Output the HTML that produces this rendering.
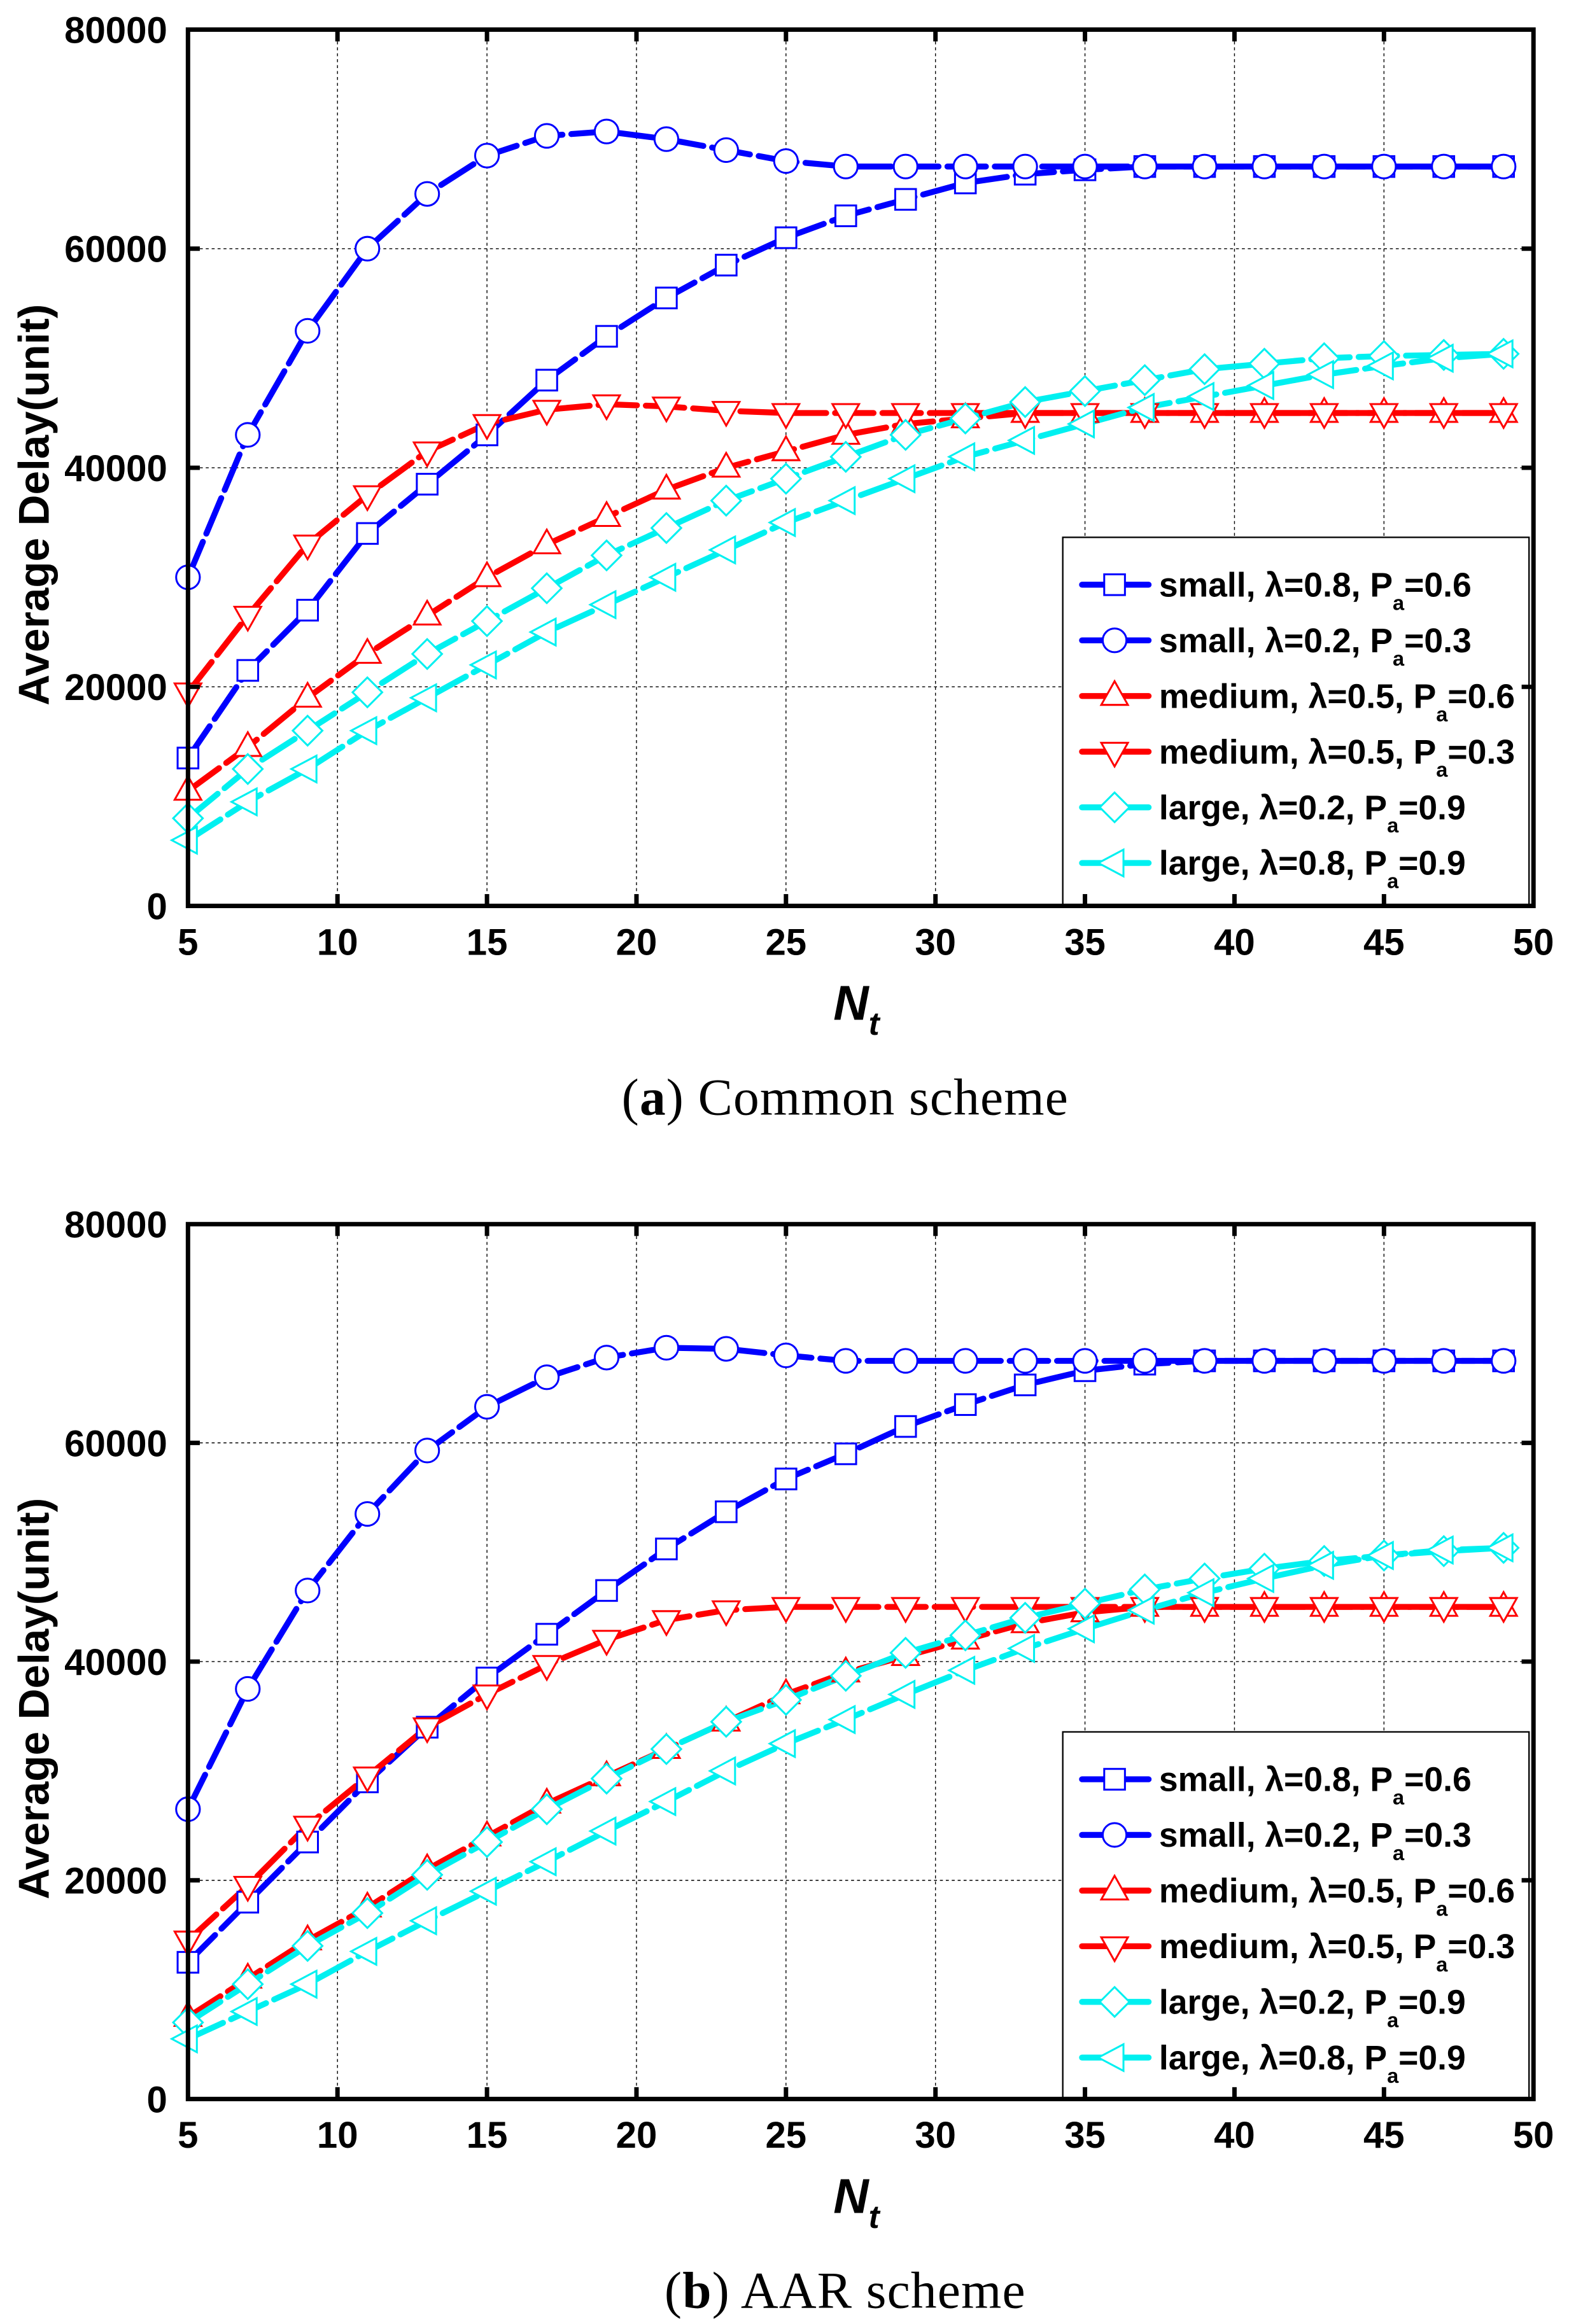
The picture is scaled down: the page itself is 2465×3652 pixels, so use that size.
<!DOCTYPE html>
<html><head><meta charset="utf-8"><style>
html,body{margin:0;padding:0;background:#fff}
svg{display:block}
text{font-family:"Liberation Sans",Arial,sans-serif}
</style></head><body>
<svg id="s" width="2465" height="3652" viewBox="0 0 1060 1570" preserveAspectRatio="none" xmlns="http://www.w3.org/2000/svg"></svg>
<script>
const S=document.getElementById('s');let h='';
const X0=127,X1=1036;
function px(x){return X0+(x-5)*(X1-X0)/45;}
const xs=[];for(let x=5;x<=49;x+=2)xs.push(x);
const A={
sq:[13.5,21.5,27,34,38.5,43,48,52,55.5,58.5,61,63,64.5,66,66.8,67.2,67.5,67.5,67.5,67.5,67.5,67.5,67.5],
ci:[30,43,52.5,60,65,68.5,70.3,70.7,70,69,68,67.5,67.5,67.5,67.5,67.5,67.5,67.5,67.5,67.5,67.5,67.5,67.5],
ut:[10.5,14.5,19,23,26.5,30,33,35.5,38,40,41.5,43,44,44.5,45,45,45,45,45,45,45,45,45],
dt:[19.5,26.5,33,37.5,41.5,44,45.3,45.8,45.6,45.2,45,45,45,45,45,45,45,45,45,45,45,45,45],
di:[8,12.5,16,19.5,23,26,29,32,34.5,37,39,41,43,44.5,46,47,48,49,49.5,50,50.2,50.3,50.4],
lt:[6,9.5,12.5,16,19,22,25,27.5,30,32.5,35,37,39,41,42.5,44,45.5,46.5,47.5,48.5,49.3,50,50.4]};
const B={
sq:[12.5,18,23.5,29,34,38.5,42.5,46.5,50.3,53.7,56.7,59,61.5,63.5,65.3,66.6,67.2,67.5,67.5,67.5,67.5,67.5,67.5],
ci:[26.5,37.5,46.5,53.5,59.3,63.3,66,67.8,68.7,68.6,68,67.5,67.5,67.5,67.5,67.5,67.5,67.5,67.5,67.5,67.5,67.5,67.5],
ut:[7.5,11,14.5,17.5,21,24,27,29.5,32,34.5,37,39,40.5,42,43.5,44.5,45,45,45,45,45,45,45],
dt:[14.5,19.5,25,29.5,34,37,39.7,42,43.8,44.7,45,45,45,45,45,45,45,45,45,45,45,45,45],
di:[7,10.5,14,17,20.5,23.5,26.5,29.3,32,34.5,36.5,38.7,40.8,42.4,44,45.3,46.6,47.6,48.5,49.2,49.7,50.1,50.4],
lt:[5.5,8,10.5,13.5,16.3,19,21.7,24.5,27.2,30,32.5,34.7,37,39.2,41.2,43,44.7,46.3,47.6,48.8,49.7,50.2,50.4]};
const col={sq:'#0000ff',ci:'#0000ff',ut:'#ff0000',dt:'#ff0000',di:'#00f0f0',lt:'#00f0f0'};
function mk(t,x,y){const c=col[t];const st=`fill="#fff" stroke="${c}" stroke-width="1.3"`;
if(t=='sq')return `<rect x="${x-7}" y="${y-7}" width="14" height="14" ${st}/>`;
if(t=='ci')return `<circle cx="${x}" cy="${y}" r="8" ${st}/>`;
if(t=='ut')return `<polygon points="${x},${y-10} ${x-9},${y+6} ${x+9},${y+6}" ${st}/>`;
if(t=='dt')return `<polygon points="${x},${y+10} ${x-9},${y-6} ${x+9},${y-6}" ${st}/>`;
if(t=='di')return `<polygon points="${x},${y-10} ${x+10},${y} ${x},${y+10} ${x-10},${y}" ${st}/>`;
if(t=='lt')return `<polygon points="${x-11},${y} ${x+6},${y-9} ${x+6},${y+9}" ${st}/>`;}
function plot(D,T,Bt,caption){
 const py=v=>Bt-(v/80)*(Bt-T);
 for(let x=10;x<=45;x+=5)h+=`<line x1="${px(x)}" y1="${T}" x2="${px(x)}" y2="${Bt}" stroke="#000" stroke-width="0.6" stroke-dasharray="2,2"/>`;
 for(let v=20;v<=60;v+=20)h+=`<line x1="${X0}" y1="${py(v)}" x2="${X1}" y2="${py(v)}" stroke="#000" stroke-width="0.6" stroke-dasharray="2,2"/>`;
 for(const t of ['sq','ci','ut','dt','di','lt']){
  const pts=xs.map((x,i)=>px(x)+','+py(D[t][i])).join(' ');
  h+=`<polyline points="${pts}" fill="none" stroke="${col[t]}" stroke-width="4" stroke-linecap="round" stroke-dasharray="26,6"/>`;
 }
 for(const t of ['sq','ci','ut','dt','di','lt'])xs.forEach((x,i)=>h+=mk(t,px(x),py(D[t][i])));
 const L=718,R=1033,LT=T+343;
 h+=`<rect x="${L}" y="${LT}" width="${R-L}" height="${Bt-LT-1}" fill="#fff" stroke="#000" stroke-width="1"/>`;
 const labs=[['sq','small, λ=0.8, P','=0.6'],['ci','small, λ=0.2, P','=0.3'],['ut','medium, λ=0.5, P','=0.6'],['dt','medium, λ=0.5, P','=0.3'],['di','large, λ=0.2, P','=0.9'],['lt','large, λ=0.8, P','=0.9']];
 labs.forEach((l,i)=>{const y=LT+32+i*37.6;
  h+=`<line x1="731" y1="${y}" x2="776" y2="${y}" stroke="${col[l[0]]}" stroke-width="4" stroke-linecap="round"/>`+mk(l[0],753,y);
  h+=`<text x="783" y="${y+8}" font-size="23" font-weight="bold">${l[1]}<tspan font-size="14" dy="9">a</tspan><tspan dy="-9">${l[2]}</tspan></text>`;});
 h+=`<rect x="${X0}" y="${T}" width="${X1-X0}" height="${Bt-T}" fill="none" stroke="#000" stroke-width="3"/>`;
 for(let x=10;x<=45;x+=5){h+=`<line x1="${px(x)}" y1="${Bt}" x2="${px(x)}" y2="${Bt-8}" stroke="#000" stroke-width="3"/><line x1="${px(x)}" y1="${T}" x2="${px(x)}" y2="${T+8}" stroke="#000" stroke-width="3"/>`;}
 for(let v=20;v<=60;v+=20){h+=`<line x1="${X0}" y1="${py(v)}" x2="${X0+8}" y2="${py(v)}" stroke="#000" stroke-width="3"/><line x1="${X1}" y1="${py(v)}" x2="${X1-8}" y2="${py(v)}" stroke="#000" stroke-width="3"/>`;}
 for(let x=5;x<=50;x+=5)h+=`<text x="${px(x)}" y="${Bt+33}" font-size="25" font-weight="bold" text-anchor="middle">${x}</text>`;
 for(let v=0;v<=80;v+=20)h+=`<text x="${X0-14}" y="${py(v)+9}" font-size="25" font-weight="bold" text-anchor="end">${v?v*1000:0}</text>`;
 const my=(T+Bt)/2+25;
 h+=`<text transform="translate(33,${my}) rotate(-90)" font-size="29" font-weight="bold" text-anchor="middle">Average Delay(unit)</text>`;
 h+=`<text x="563" y="${Bt+77}" font-size="33" font-weight="bold" font-style="italic">N<tspan font-size="22" dy="10">t</tspan></text>`;
 h+=`<text x="571" y="${Bt+141}" font-size="35" text-anchor="middle" style='font-family:"Liberation Serif",serif' letter-spacing="0.5">${caption}</text>`;
}
plot(A,20,612,'(<tspan font-weight="bold">a</tspan>) Common scheme');
plot(B,827,1418,'(<tspan font-weight="bold">b</tspan>) AAR scheme');
S.innerHTML=h;
</script>
</body></html>
